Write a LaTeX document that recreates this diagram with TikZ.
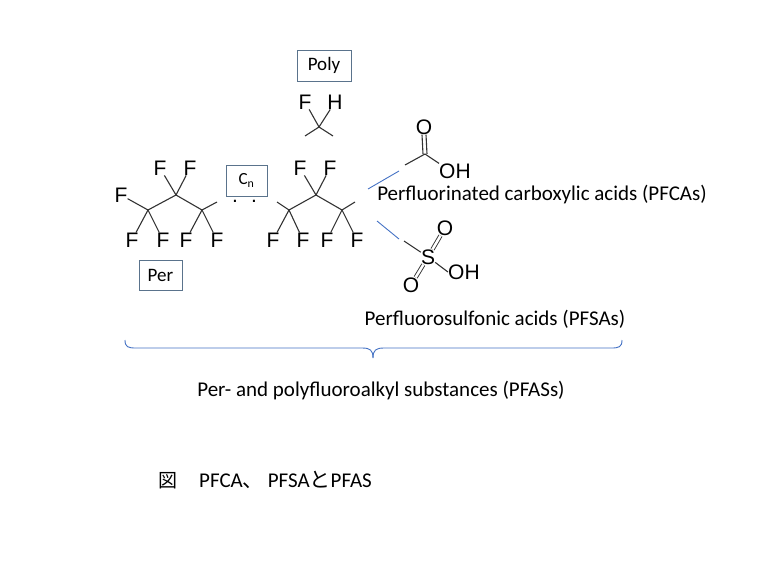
\documentclass[tikz,border=0pt]{standalone}
\usepackage{fontspec}
\setmainfont{Carlito}
\newfontfamily\chem{Liberation Sans}
\newfontfamily\cjk{Noto Sans CJK JP}
\begin{document}
\begin{tikzpicture}[x=1pt,y=-1pt,
  bd/.style={line width=1.1pt,black!80},
  atm/.style={inner sep=0pt,font=\chem\fontsize{21}{21}\selectfont},
  box/.style={draw={rgb,255:red,90;green,115;blue,140},line width=0.6pt,minimum height=30,inner sep=2pt,font=\fontsize{19}{19}\selectfont},
  lbl/.style={font=\fontsize{21}{21}\selectfont,inner sep=0pt},
  bl/.style={line width=0.9pt,draw={rgb,255:red,68;green,114;blue,196}}]
\useasboundingbox (0,0) rectangle (768,576);
% left chain
\node[atm] (f0) at (121,195) {F};
\coordinate (c1) at (148,210); \coordinate (c2) at (176,195); \coordinate (c3) at (202,210);
\coordinate (e1) at (217,202);
\node[atm] (f1) at (132,240) {F}; \node[atm] (f2) at (163,240) {F};
\node[atm] (f3) at (160,168) {F}; \node[atm] (f4) at (190,168) {F};
\node[atm] (f5) at (186,240) {F}; \node[atm] (f6) at (217,240) {F};
\draw[bd] (f0) -- (c1) -- (c2) -- (c3) -- (e1);
\draw[bd] (c1) -- (f1); \draw[bd] (c1) -- (f2);
\draw[bd] (c2) -- (f3); \draw[bd] (c2) -- (f4);
\draw[bd] (c3) -- (f5); \draw[bd] (c3) -- (f6);
\node[atm] (d1) at (235,201) {.}; \node[atm] (d2) at (254,201) {.};
\node[box,minimum width=41,minimum height=31,font=\fontsize{17}{17}\selectfont] (cn) at (246.5,180.5) {C\textsubscript{n}};
% right chain
\coordinate (s4) at (277,202);
\coordinate (c4) at (289,210); \coordinate (c5) at (316,195); \coordinate (c6) at (342,210);
\coordinate (e2) at (355,202);
\node[atm] (g1) at (273,240) {F}; \node[atm] (g2) at (303,240) {F};
\node[atm] (g3) at (300,168) {F}; \node[atm] (g4) at (330,168) {F};
\node[atm] (g5) at (327,240) {F}; \node[atm] (g6) at (357,240) {F};
\draw[bd] (s4) -- (c4) -- (c5) -- (c6) -- (e2);
\draw[bd] (c4) -- (g1); \draw[bd] (c4) -- (g2);
\draw[bd] (c5) -- (g3); \draw[bd] (c5) -- (g4);
\draw[bd] (c6) -- (g5); \draw[bd] (c6) -- (g6);
% poly
\node[box,minimum width=54,minimum height=31] (poly) at (324,65.5) {Poly};
\node[atm] (pf) at (305,102) {F}; \node[atm] (ph) at (335,102) {H};
\coordinate (pc) at (319,127); \coordinate (pa) at (305,136); \coordinate (pb) at (333,136);
\draw[bd] (pa) -- (pc) -- (pb); \draw[bd] (pf) -- (pc) -- (ph);
% per
\node[box,minimum width=43,minimum height=30] (per) at (160.5,275) {Per};
% blue connectors
\coordinate (b1) at (368,189); \coordinate (b2) at (399,171);
\coordinate (b3) at (377,221); \coordinate (b4) at (399,239);
\draw[bl] (b1) -- (b2); \draw[bl] (b3) -- (b4);
% COOH
\coordinate (k0) at (405,165); \coordinate (kc) at (425,154);
\node[atm] (ko) at (424,127) {O}; \node[atm,anchor=west] (koh) at (439,171) {OH};
\draw[bd] (k0) -- (kc) -- (koh.north west);
\draw[bd] ([xshift=-2]kc) -- ([xshift=-2]ko.south); \draw[bd] ([xshift=2]kc) -- ([xshift=2]ko.south);
% SO3H
\coordinate (s0) at (404,241);
\node[atm] (ss) at (428,257) {S};
\node[atm] (so1) at (445,228) {O}; \node[atm] (so2) at (411,285) {O};
\node[atm,anchor=west] (soh) at (448,272) {OH};
\draw[bd] (s0) -- (ss); \draw[bd] (ss) -- (soh.west);
\draw[bd,double,double distance=2.5pt,line width=0.9pt] (ss) -- (so1);
\draw[bd,double,double distance=2.5pt,line width=0.9pt] (ss) -- (so2);
% labels
\node[lbl] (t1) at (542,195) {Perfluorinated carboxylic acids (PFCAs)};
\node[lbl] (t2) at (495,319) {Perfluorosulfonic acids (PFSAs)};
\node[lbl] (t3) at (381,391) {Per- and polyfluoroalkyl substances (PFASs)};
% brace
\coordinate (bl0) at (125,340); \coordinate (br0) at (622,340); \coordinate (bt) at (373,358);
\draw[bl] (bl0) .. controls (125,347) and (128,348) .. (136,348) -- (362,348) .. controls (370,348) and (373,350) .. (bt);
\draw[bl] (br0) .. controls (622,347) and (619,348) .. (611,348) -- (384,348) .. controls (376,348) and (373,350) .. (bt);
% caption
\node[lbl,anchor=west] (cap) at (158,480) {{\cjk\fontsize{19}{19}\selectfont 図}\hspace{22pt}PFCA{\cjk 、}\hspace{4pt}PFSA{\cjk と}PFAS};
\end{tikzpicture}
\end{document}
